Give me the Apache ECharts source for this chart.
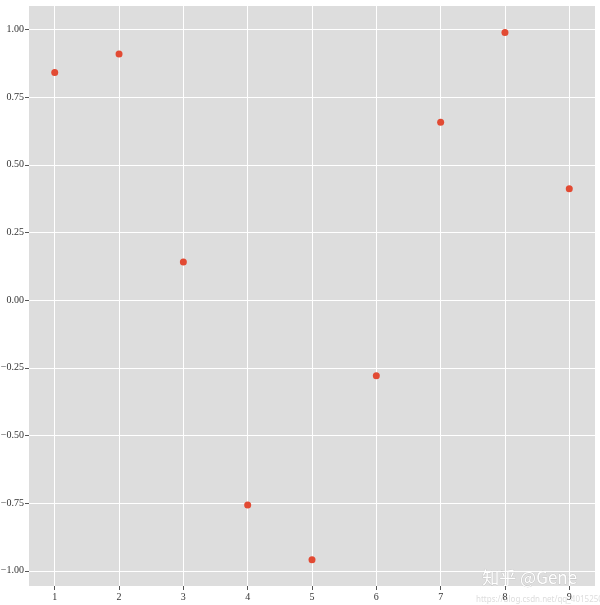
<!DOCTYPE html>
<html><head><meta charset="utf-8">
<script src="https://cdn.jsdelivr.net/npm/echarts@6/dist/echarts.min.js"></script>
<style>html,body{margin:0;padding:0;background:#fff}#c{width:600px;height:605px}</style>
</head><body><div id="c"></div>
<script>
var xValues = [1, 2, 3, 4, 5, 6, 7, 8, 9];
var yValues = [0.841, 0.909, 0.141, -0.757, -0.959, -0.279, 0.657, 0.989, 0.412];
var xTicks = [1, 2, 3, 4, 5, 6, 7, 8, 9];
var yTicks = [-1.00, -0.75, -0.50, -0.25, 0.00, 0.25, 0.50, 0.75, 1.00];

var chart = echarts.init(document.getElementById('c'));
var font = '"Liberation Serif", "DejaVu Serif", serif';
chart.setOption({
  animation: false,
  backgroundColor: '#ffffff',
  grid: {left: 29, right: 5, top: 6, bottom: 19, show: true, backgroundColor: '#dddddd', borderWidth: 0,
    outerBoundsMode: 'none', containLabel: false},
  xAxis: {
    type: 'value', min: 0.6, max: 9.4,
    axisLine: {show: false, onZero: false},
    axisTick: {show: true, customValues: xTicks, length: 4, lineStyle: {color: '#555'}},
    axisLabel: {customValues: xTicks, fontFamily: font, fontSize: 10, color: '#333', margin: 6},
    splitLine: {show: true, lineStyle: {color: '#ffffff', width: 1}}
  },
  yAxis: {
    type: 'value', min: -1.0563, max: 1.0868,
    axisLine: {show: false, onZero: false},
    axisTick: {show: true, customValues: yTicks, length: 4, lineStyle: {color: '#555'}},
    axisLabel: {customValues: yTicks, fontFamily: font, fontSize: 10, color: '#333', margin: 5,
      formatter: function (v) { return (v < 0 ? '\u2212' : '') + Math.abs(v).toFixed(2); }},
    splitLine: {show: true, lineStyle: {color: '#ffffff', width: 1}}
  },
  series: [{
    type: 'scatter',
    data: xValues.map(function (x, i) { return [x, yValues[i]]; }),
    symbolSize: 7,
    itemStyle: {color: '#E24A33', opacity: 1}
  }],
  graphic: [
    {type: 'text', left: 482, top: 569, style: {text: '知乎 @Gene', font: '17px "Noto Sans CJK SC", sans-serif', fill: '#ffffff', stroke: '#bbbbbb', lineWidth: 0.6}},
    {type: 'text', left: 476, top: 596, style: {text: 'https://blog.csdn.net/qq_40152505', font: '8px "Noto Sans", sans-serif', fill: '#dddddd'}}
  ]
});
</script></body></html>
